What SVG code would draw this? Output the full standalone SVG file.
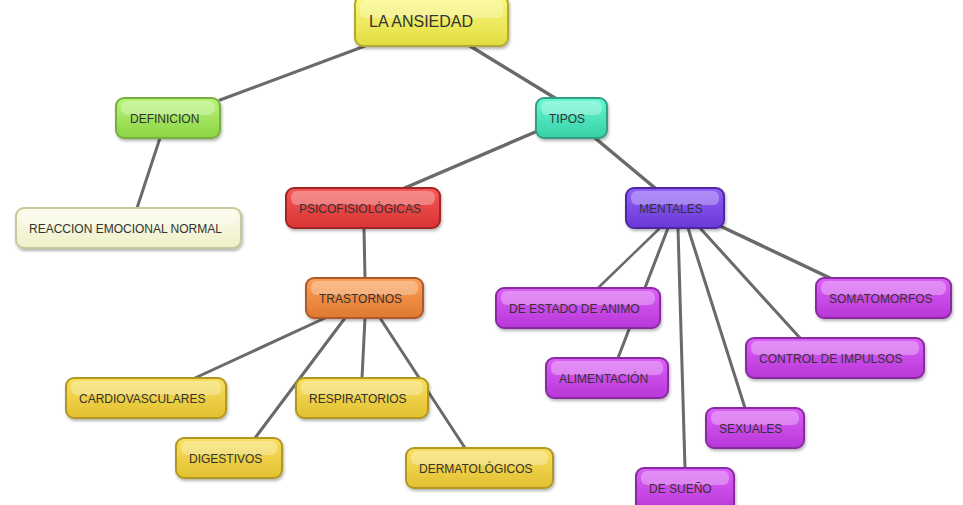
<svg xmlns="http://www.w3.org/2000/svg" width="963" height="505" viewBox="0 0 963 505">
<style>
text{font-family:"Liberation Sans",Arial,sans-serif;font-size:12px;fill:#333}
.big{font-size:16px}
.hl{fill:#fff;opacity:0.3}
#connectors line{stroke:#6a6a6a;stroke-linecap:round}
.n rect.b{stroke-width:2;filter:url(#sh)}
</style>
<defs>
<filter id="sh" x="-10%" y="-10%" width="120%" height="140%"><feDropShadow dx="1" dy="2" stdDeviation="1.5" flood-opacity="0.3"/></filter>
<linearGradient id="gy" x1="0" y1="0" x2="0" y2="1"><stop offset="0" stop-color="#fafa80"/><stop offset="1" stop-color="#e2dc40"/></linearGradient>
<linearGradient id="gg" x1="0" y1="0" x2="0" y2="1"><stop offset="0" stop-color="#b8f478"/><stop offset="1" stop-color="#8cd444"/></linearGradient>
<linearGradient id="gt" x1="0" y1="0" x2="0" y2="1"><stop offset="0" stop-color="#68f8d4"/><stop offset="1" stop-color="#36d0a6"/></linearGradient>
<linearGradient id="gc" x1="0" y1="0" x2="0" y2="1"><stop offset="0" stop-color="#fcfcec"/><stop offset="1" stop-color="#eef0c8"/></linearGradient>
<linearGradient id="gr" x1="0" y1="0" x2="0" y2="1"><stop offset="0" stop-color="#f85858"/><stop offset="1" stop-color="#d83434"/></linearGradient>
<linearGradient id="gp" x1="0" y1="0" x2="0" y2="1"><stop offset="0" stop-color="#9060f8"/><stop offset="1" stop-color="#6a38d8"/></linearGradient>
<linearGradient id="go" x1="0" y1="0" x2="0" y2="1"><stop offset="0" stop-color="#fca058"/><stop offset="1" stop-color="#e07830"/></linearGradient>
<linearGradient id="gm" x1="0" y1="0" x2="0" y2="1"><stop offset="0" stop-color="#dc60f8"/><stop offset="1" stop-color="#b836d8"/></linearGradient>
<linearGradient id="gd" x1="0" y1="0" x2="0" y2="1"><stop offset="0" stop-color="#f8e060"/><stop offset="1" stop-color="#e2c030"/></linearGradient>
</defs>
<rect width="963" height="505" fill="#fff"/>
<g id="connectors">
<line x1="365" y1="46" x2="220" y2="100" stroke-width="3"/>
<line x1="470" y1="46" x2="555" y2="98" stroke-width="3.5"/>
<line x1="160" y1="138" x2="137" y2="208" stroke-width="3"/>
<line x1="540" y1="130" x2="400" y2="190" stroke-width="3.5"/>
<line x1="595" y1="138" x2="655" y2="188" stroke-width="3.5"/>
<line x1="364" y1="228" x2="365" y2="278" stroke-width="3"/>
<line x1="660" y1="228" x2="598" y2="288" stroke-width="2.5"/>
<line x1="668" y1="228" x2="618" y2="358" stroke-width="3"/>
<line x1="678" y1="228" x2="685" y2="468" stroke-width="3"/>
<line x1="688" y1="228" x2="745" y2="408" stroke-width="3"/>
<line x1="700" y1="228" x2="800" y2="338" stroke-width="3"/>
<line x1="718" y1="225" x2="830" y2="278" stroke-width="3.5"/>
<line x1="325" y1="318" x2="195" y2="378" stroke-width="3"/>
<line x1="345" y1="318" x2="255" y2="438" stroke-width="3"/>
<line x1="365" y1="318" x2="362" y2="378" stroke-width="3"/>
<line x1="380" y1="318" x2="465" y2="448" stroke-width="3"/>
</g>
<g id="n-ansiedad" class="n"><rect class="b" x="355" y="-4" width="153" height="50" rx="8" fill="url(#gy)" stroke="#b0aa30"/><rect class="hl" x="360" y="0" width="143" height="18" rx="6"/><text class="big" x="369" y="27">LA ANSIEDAD</text></g>
<g id="n-definicion" class="n"><rect class="b" x="116" y="98" width="104" height="40" rx="8" fill="url(#gg)" stroke="#78b040"/><rect class="hl" x="121" y="101" width="94" height="14" rx="6"/><text x="130" y="123">DEFINICION</text></g>
<g id="n-tipos" class="n"><rect class="b" x="536" y="98" width="71" height="40" rx="8" fill="url(#gt)" stroke="#30a080"/><rect class="hl" x="541" y="101" width="61" height="14" rx="6"/><text x="549" y="123">TIPOS</text></g>
<g id="n-reaccion" class="n"><rect class="b" x="16" y="208" width="225" height="40" rx="8" fill="url(#gc)" stroke="#c8c8a0"/><rect class="hl" x="21" y="211" width="215" height="14" rx="6"/><text x="29" y="233">REACCION EMOCIONAL NORMAL</text></g>
<g id="n-psico" class="n"><rect class="b" x="286" y="188" width="154" height="40" rx="8" fill="url(#gr)" stroke="#a02828"/><rect class="hl" x="291" y="191" width="144" height="14" rx="6"/><text x="299" y="213">PSICOFISIOLÓGICAS</text></g>
<g id="n-mentales" class="n"><rect class="b" x="626" y="188" width="98" height="40" rx="8" fill="url(#gp)" stroke="#5028a0"/><rect class="hl" x="631" y="191" width="88" height="14" rx="6"/><text x="639" y="213">MENTALES</text></g>
<g id="n-trastornos" class="n"><rect class="b" x="306" y="278" width="117" height="40" rx="8" fill="url(#go)" stroke="#b05828"/><rect class="hl" x="311" y="281" width="107" height="14" rx="6"/><text x="319" y="303">TRASTORNOS</text></g>
<g id="n-estado" class="n"><rect class="b" x="496" y="288" width="164" height="40" rx="8" fill="url(#gm)" stroke="#8a2aa0"/><rect class="hl" x="501" y="291" width="154" height="14" rx="6"/><text x="509" y="313">DE ESTADO DE ANIMO</text></g>
<g id="n-somato" class="n"><rect class="b" x="816" y="278" width="135" height="40" rx="8" fill="url(#gm)" stroke="#8a2aa0"/><rect class="hl" x="821" y="281" width="125" height="14" rx="6"/><text x="829" y="303">SOMATOMORFOS</text></g>
<g id="n-control" class="n"><rect class="b" x="746" y="338" width="178" height="40" rx="8" fill="url(#gm)" stroke="#8a2aa0"/><rect class="hl" x="751" y="341" width="168" height="14" rx="6"/><text x="759" y="363">CONTROL DE IMPULSOS</text></g>
<g id="n-alim" class="n"><rect class="b" x="546" y="358" width="122" height="40" rx="8" fill="url(#gm)" stroke="#8a2aa0"/><rect class="hl" x="551" y="361" width="112" height="14" rx="6"/><text x="559" y="383">ALIMENTACIÓN</text></g>
<g id="n-sexuales" class="n"><rect class="b" x="706" y="408" width="98" height="40" rx="8" fill="url(#gm)" stroke="#8a2aa0"/><rect class="hl" x="711" y="411" width="88" height="14" rx="6"/><text x="719" y="433">SEXUALES</text></g>
<g id="n-sueno" class="n"><rect class="b" x="636" y="468" width="98" height="44" rx="8" fill="url(#gm)" stroke="#8a2aa0"/><rect class="hl" x="641" y="471" width="88" height="14" rx="6"/><text x="649" y="493">DE SUEÑO</text></g>
<g id="n-cardio" class="n"><rect class="b" x="66" y="378" width="160" height="40" rx="8" fill="url(#gd)" stroke="#b09820"/><rect class="hl" x="71" y="381" width="150" height="14" rx="6"/><text x="79" y="403">CARDIOVASCULARES</text></g>
<g id="n-resp" class="n"><rect class="b" x="296" y="378" width="132" height="40" rx="8" fill="url(#gd)" stroke="#b09820"/><rect class="hl" x="301" y="381" width="122" height="14" rx="6"/><text x="309" y="403">RESPIRATORIOS</text></g>
<g id="n-digest" class="n"><rect class="b" x="176" y="438" width="106" height="40" rx="8" fill="url(#gd)" stroke="#b09820"/><rect class="hl" x="181" y="441" width="96" height="14" rx="6"/><text x="189" y="463">DIGESTIVOS</text></g>
<g id="n-derma" class="n"><rect class="b" x="406" y="448" width="147" height="40" rx="8" fill="url(#gd)" stroke="#b09820"/><rect class="hl" x="411" y="451" width="137" height="14" rx="6"/><text x="419" y="473">DERMATOLÓGICOS</text></g>
</svg>
